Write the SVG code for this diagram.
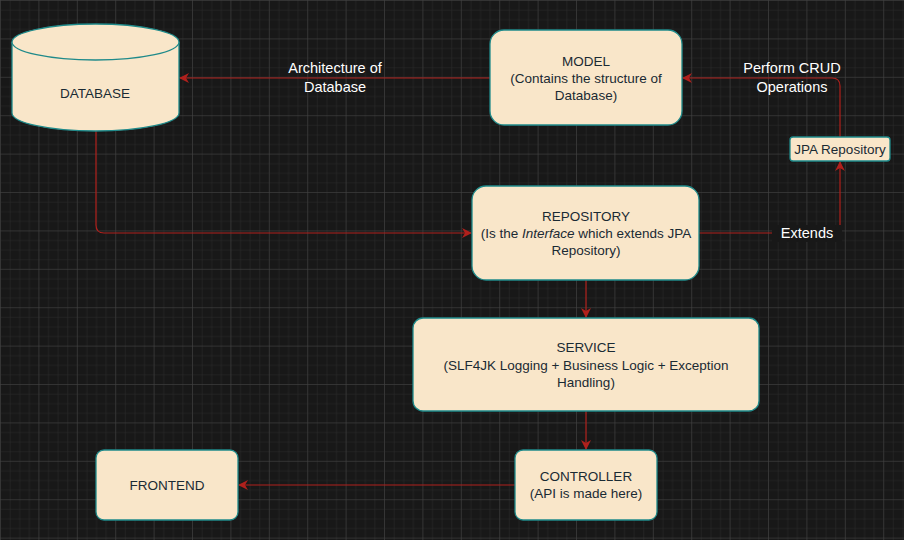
<svg xmlns="http://www.w3.org/2000/svg" width="904" height="540" viewBox="0 0 904 540">
<defs>
<pattern id="minor" width="9.6" height="9.6" patternUnits="userSpaceOnUse"><path d="M9.6 0V9.6H0" fill="none" stroke="#2c2c2c" stroke-width="1"/></pattern>
<pattern id="major" x="1" y="1" width="38.4" height="38.4" patternUnits="userSpaceOnUse"><rect width="38.4" height="38.4" fill="url(#minor)"/><path d="M38.4 0V38.4H0" fill="none" stroke="#444" stroke-width="1"/></pattern>
<marker id="ah" viewBox="0 0 10 10" refX="9" refY="5" markerWidth="10" markerHeight="10" markerUnits="userSpaceOnUse" orient="auto"><path d="M0 0L10 5L0 10L3 5Z" fill="#b0201c"/></marker>
<style>
.n{fill:#f9e6c9;stroke:#1f8a8a;stroke-width:1.3}
.t{font-family:"Liberation Sans",Arial,sans-serif;font-size:13.5px;fill:#1a2a33;text-anchor:middle}
.l{font-family:"Liberation Sans",Arial,sans-serif;font-size:14.5px;fill:#fff;text-anchor:middle}
.e{fill:none;stroke:#b0201c;stroke-width:1.2;marker-end:url(#ah)}
</style>
</defs>
<rect width="904" height="540" fill="#181818"/>
<rect width="904" height="540" fill="url(#major)"/>
<g id="connectors">
<path class="e" d="M490 78H180"/>
<path class="e" d="M840 137V86Q840 78 832 78H683"/>
<path class="e" d="M96 131V225Q96 233 104 233H471"/>
<path class="e" d="M699 233H832Q840 233 840 225V162"/>
<path class="e" d="M586 280V317"/>
<path class="e" d="M586 411V449"/>
<path class="e" d="M515 485H239"/>
<rect x="772" y="225" width="70" height="17" fill="#181818"/>
<text class="l" x="335" y="73">Architecture of</text>
<text class="l" x="335" y="92">Database</text>
<text class="l" x="792" y="73">Perform CRUD</text>
<text class="l" x="792" y="92">Operations</text>
<text class="l" x="807" y="238">Extends</text>
</g>
<g id="database">
<path class="n" d="M12 42A83.5 18 0 0 1 179 42V113A83.5 18 0 0 1 12 113Z"/>
<path class="n" fill="none" d="M12 42A83.5 18 0 0 0 179 42"/>
<text class="t" x="95" y="98">DATABASE</text>
</g>
<g id="model">
<rect class="n" x="490" y="30" width="192" height="95" rx="14"/>
<text class="t" x="586" y="66">MODEL</text>
<text class="t" x="586" y="83">(Contains the structure of</text>
<text class="t" x="586" y="100">Database)</text>
</g>
<g id="jpa">
<rect class="n" x="790" y="137" width="100" height="24" rx="3"/>
<text class="t" x="840" y="154">JPA Repository</text>
</g>
<g id="repository">
<rect class="n" x="472" y="186" width="227" height="94" rx="14"/>
<text class="t" x="586" y="221">REPOSITORY</text>
<text class="t" x="586" y="238">(Is the <tspan font-style="italic">Interface</tspan> which extends JPA</text>
<text class="t" x="586" y="255">Repository)</text>
</g>
<g id="service">
<rect class="n" x="413" y="318" width="346" height="93" rx="10"/>
<text class="t" x="586" y="352">SERVICE</text>
<text class="t" x="586" y="370">(SLF4JK Logging + Business Logic + Exception</text>
<text class="t" x="586" y="387">Handling)</text>
</g>
<g id="controller">
<rect class="n" x="515" y="450" width="142" height="70" rx="8"/>
<text class="t" x="586" y="481">CONTROLLER</text>
<text class="t" x="586" y="498">(API is made here)</text>
</g>
<g id="frontend">
<rect class="n" x="96" y="450" width="142" height="70" rx="8"/>
<text class="t" x="167" y="490">FRONTEND</text>
</g>
</svg>
